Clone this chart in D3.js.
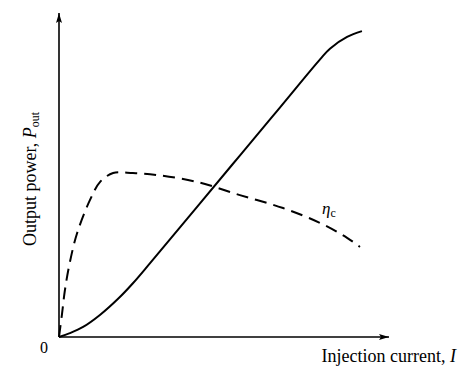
<!DOCTYPE html>
<html>
<head>
<meta charset="utf-8">
<script src="https://cdn.jsdelivr.net/npm/d3@7"></script>
<style>
  body { margin: 0; background: #fff; }
  text { font-family: "Liberation Serif", "Times New Roman", serif; fill: #000; }
</style>
</head>
<body>
<div id="chart"></div>
<script>
// values (arbitrary units, 0..10 on both axes)
const powerI   = [0, 0.33, 0.73, 1.24, 1.79, 2.24, 2.76, 4.21, 5.48, 6.70, 7.91, 8.21, 8.73, 9.18];
const powerOut = [0, 0.12, 0.31, 0.68, 1.18, 1.66, 2.28, 4.05, 5.60, 7.09, 8.57, 8.90, 9.26, 9.44];

const effI   = [0, 0.09, 0.18, 0.33, 0.55, 0.94, 1.24, 1.64, 2.24, 2.97, 4.21, 5.48, 6.79, 7.91, 8.73, 9.12];
const effVal = [0, 0.70, 1.45, 2.31, 3.21, 4.23, 4.78, 5.06, 5.06, 5.00, 4.78, 4.38, 3.98, 3.52, 3.06, 2.78];

const width = 474, height = 378;
const margin = { top: 13, right: 85, bottom: 41, left: 59 };

const svg = d3.select("#chart")
    .append("svg")
    .attr("width", width)
    .attr("height", height);

const x = d3.scaleLinear().domain([0, 10]).range([margin.left, width - margin.right]);
const y = d3.scaleLinear().domain([0, 10]).range([height - margin.bottom, margin.top]);

// arrow head
svg.append("defs").append("marker")
    .attr("id", "arrow")
    .attr("viewBox", "0 0 10 6")
    .attr("refX", 10)
    .attr("refY", 3)
    .attr("markerWidth", 10)
    .attr("markerHeight", 6)
    .attr("markerUnits", "userSpaceOnUse")
    .attr("orient", "auto")
    .append("path")
    .attr("d", "M0,0 L10,3 L0,6 L2,3 Z")
    .attr("fill", "#000");

// axes
svg.append("line")
    .attr("x1", x(0)).attr("y1", y(0))
    .attr("x2", x(10)).attr("y2", y(0))
    .attr("stroke", "#000").attr("stroke-width", 1.6)
    .attr("marker-end", "url(#arrow)");

svg.append("line")
    .attr("x1", x(0)).attr("y1", y(0))
    .attr("x2", x(0)).attr("y2", y(10))
    .attr("stroke", "#000").attr("stroke-width", 1.6)
    .attr("marker-end", "url(#arrow)");

const line = d3.line()
    .x(d => x(d[0]))
    .y(d => y(d[1]))
    .curve(d3.curveCatmullRom);

// output power
svg.append("path")
    .datum(d3.zip(powerI, powerOut))
    .attr("d", line)
    .attr("fill", "none")
    .attr("stroke", "#000")
    .attr("stroke-width", 2);

// efficiency
svg.append("path")
    .datum(d3.zip(effI, effVal))
    .attr("d", line)
    .attr("fill", "none")
    .attr("stroke", "#000")
    .attr("stroke-width", 2)
    .attr("stroke-dasharray", "12,7");

// labels
svg.append("text")
    .attr("x", 44)
    .attr("y", 353)
    .attr("text-anchor", "middle")
    .style("font-size", "16px")
    .text("0");

const xl = svg.append("text")
    .attr("x", 456)
    .attr("y", 362)
    .attr("text-anchor", "end")
    .style("font-size", "18px");
xl.append("tspan").text("Injection current, ");
xl.append("tspan").style("font-style", "italic").text("I");

const yl = svg.append("text")
    .attr("transform", "translate(36,179) rotate(-90)")
    .attr("text-anchor", "middle")
    .style("font-size", "18px");
yl.append("tspan").text("Output power, ");
yl.append("tspan").style("font-style", "italic").text("P");
yl.append("tspan").style("font-size", "12px").attr("dy", 3).text("out");

const el = svg.append("text")
    .attr("x", 322)
    .attr("y", 214)
    .style("font-size", "17px");
el.append("tspan").style("font-style", "italic").text("η");
el.append("tspan").style("font-size", "12px").attr("dy", 3).text("c");
</script>
</body>
</html>
